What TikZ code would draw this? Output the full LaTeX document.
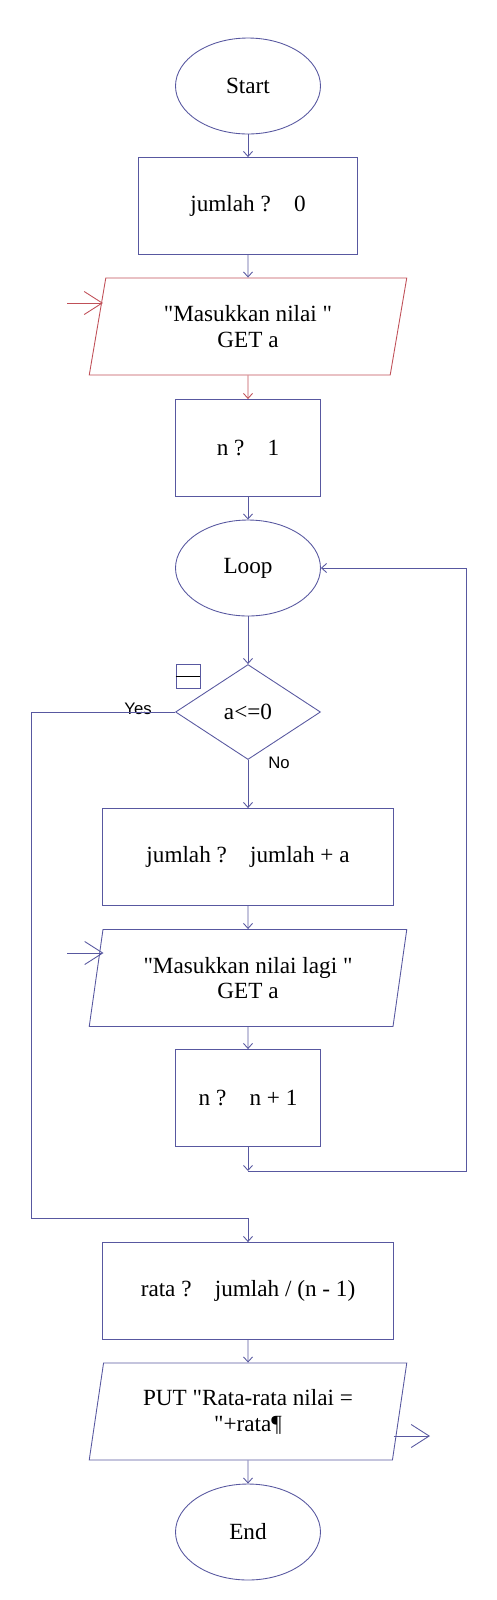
\documentclass[tikz,border=0pt]{standalone}
\usepackage{fontspec}
\setmainfont{Liberation Serif}[Ligatures=TeXOff]
\newfontfamily\labelfont{Liberation Sans}
\usetikzlibrary{shapes.geometric,arrows.meta}
\definecolor{lineblue}{RGB}{88,88,160}
\definecolor{linered}{RGB}{192,80,88}

\begin{document}
\begin{tikzpicture}[x=0.02cm,y=-0.02cm,line width=0.5pt,
  font=\fontsize{13.2}{14.7}\selectfont,
  terminal/.style={draw=lineblue, ellipse, minimum width=2.9cm, minimum height=1.92cm, inner sep=0},
  process/.style={draw=lineblue, rectangle, minimum height=1.94cm},
  io/.style={draw=lineblue, trapezium, trapezium left angle=79, trapezium right angle=101,
    trapezium stretches=true, minimum width=6.36cm, minimum height=1.94cm, align=center},
  decision/.style={draw=lineblue, diamond, minimum width=2.9cm, minimum height=1.9cm, inner sep=0},
  flow/.style={draw=lineblue, -{Straight Barb[length=1mm,width=1.8mm]}},
  inflow/.style={draw=lineblue, -{Straight Barb[length=3.6mm,width=4.6mm]}},
  yesno/.style={font=\labelfont\fontsize{9.5}{11}\selectfont, inner sep=0}]
\useasboundingbox (0,0) rectangle (497,1600);

\node[terminal] (start) at (248,86) {Start};
\node[process, minimum width=4.38cm] (init) at (248,206) {jumlah ?\quad 0};
\node[io, draw=linered] (get1) at (248,326.5) {"Masukkan nilai "\\GET a};
\node[process, minimum width=2.9cm] (n1) at (248,448) {n ?\quad 1};
\node[terminal] (loop) at (248,568) {Loop};
\node[decision] (cond) at (248,712) {a<=0};
\node[draw=lineblue, minimum size=0.48cm, inner sep=0] (icon) at (188,676) {};
\node[process, minimum width=5.82cm] (add) at (248,857) {jumlah ?\quad jumlah + a};
\node[io] (get2) at (248,978) {"Masukkan nilai lagi "\\GET a};
\node[process, minimum width=2.9cm] (inc) at (248,1098) {n ?\quad n + 1};
\node[process, minimum width=5.82cm] (avg) at (248,1291) {rata ?\quad jumlah / (n - 1)};
\node[io] (put) at (248,1411.5) {PUT "Rata-rata nilai =\\"+rata¶};
\node[terminal] (stop) at (248,1532) {End};

\node[yesno] (yes) at (138,709) {Yes};
\node[yesno] (no) at (279,763) {No};

\coordinate (in1) at (67,303);
\coordinate (in1e) at (103,303);
\coordinate (in2) at (67,953);
\coordinate (in2e) at (103.5,953);
\coordinate (outs) at (393.5,1436);
\coordinate (oute) at (430,1436);
\coordinate (join) at (248,1171);
\coordinate (joinR) at (466,1171);
\coordinate (yesL) at (31,1218);

% main flow
\foreach \a/\b in {start/init, init/get1, n1/loop, loop/cond, cond/add,
  add/get2, get2/inc, inc/join, avg/put, put/stop}
  \draw[flow] (\a) -- (\b);
\draw[flow, draw=linered] (get1) -- (n1);
\draw (icon.west) -- (icon.east);

% loop back and exit
\draw[flow] (join) -- (joinR) |- (loop.east);
\draw[flow] (cond.west) -| (yesL) -| (avg.north);

% input / output
\draw[inflow, draw=linered] (in1) -- (in1e);
\draw[inflow] (in2) -- (in2e);
\draw[inflow] (outs) -- (oute);
\end{tikzpicture}
\end{document}
